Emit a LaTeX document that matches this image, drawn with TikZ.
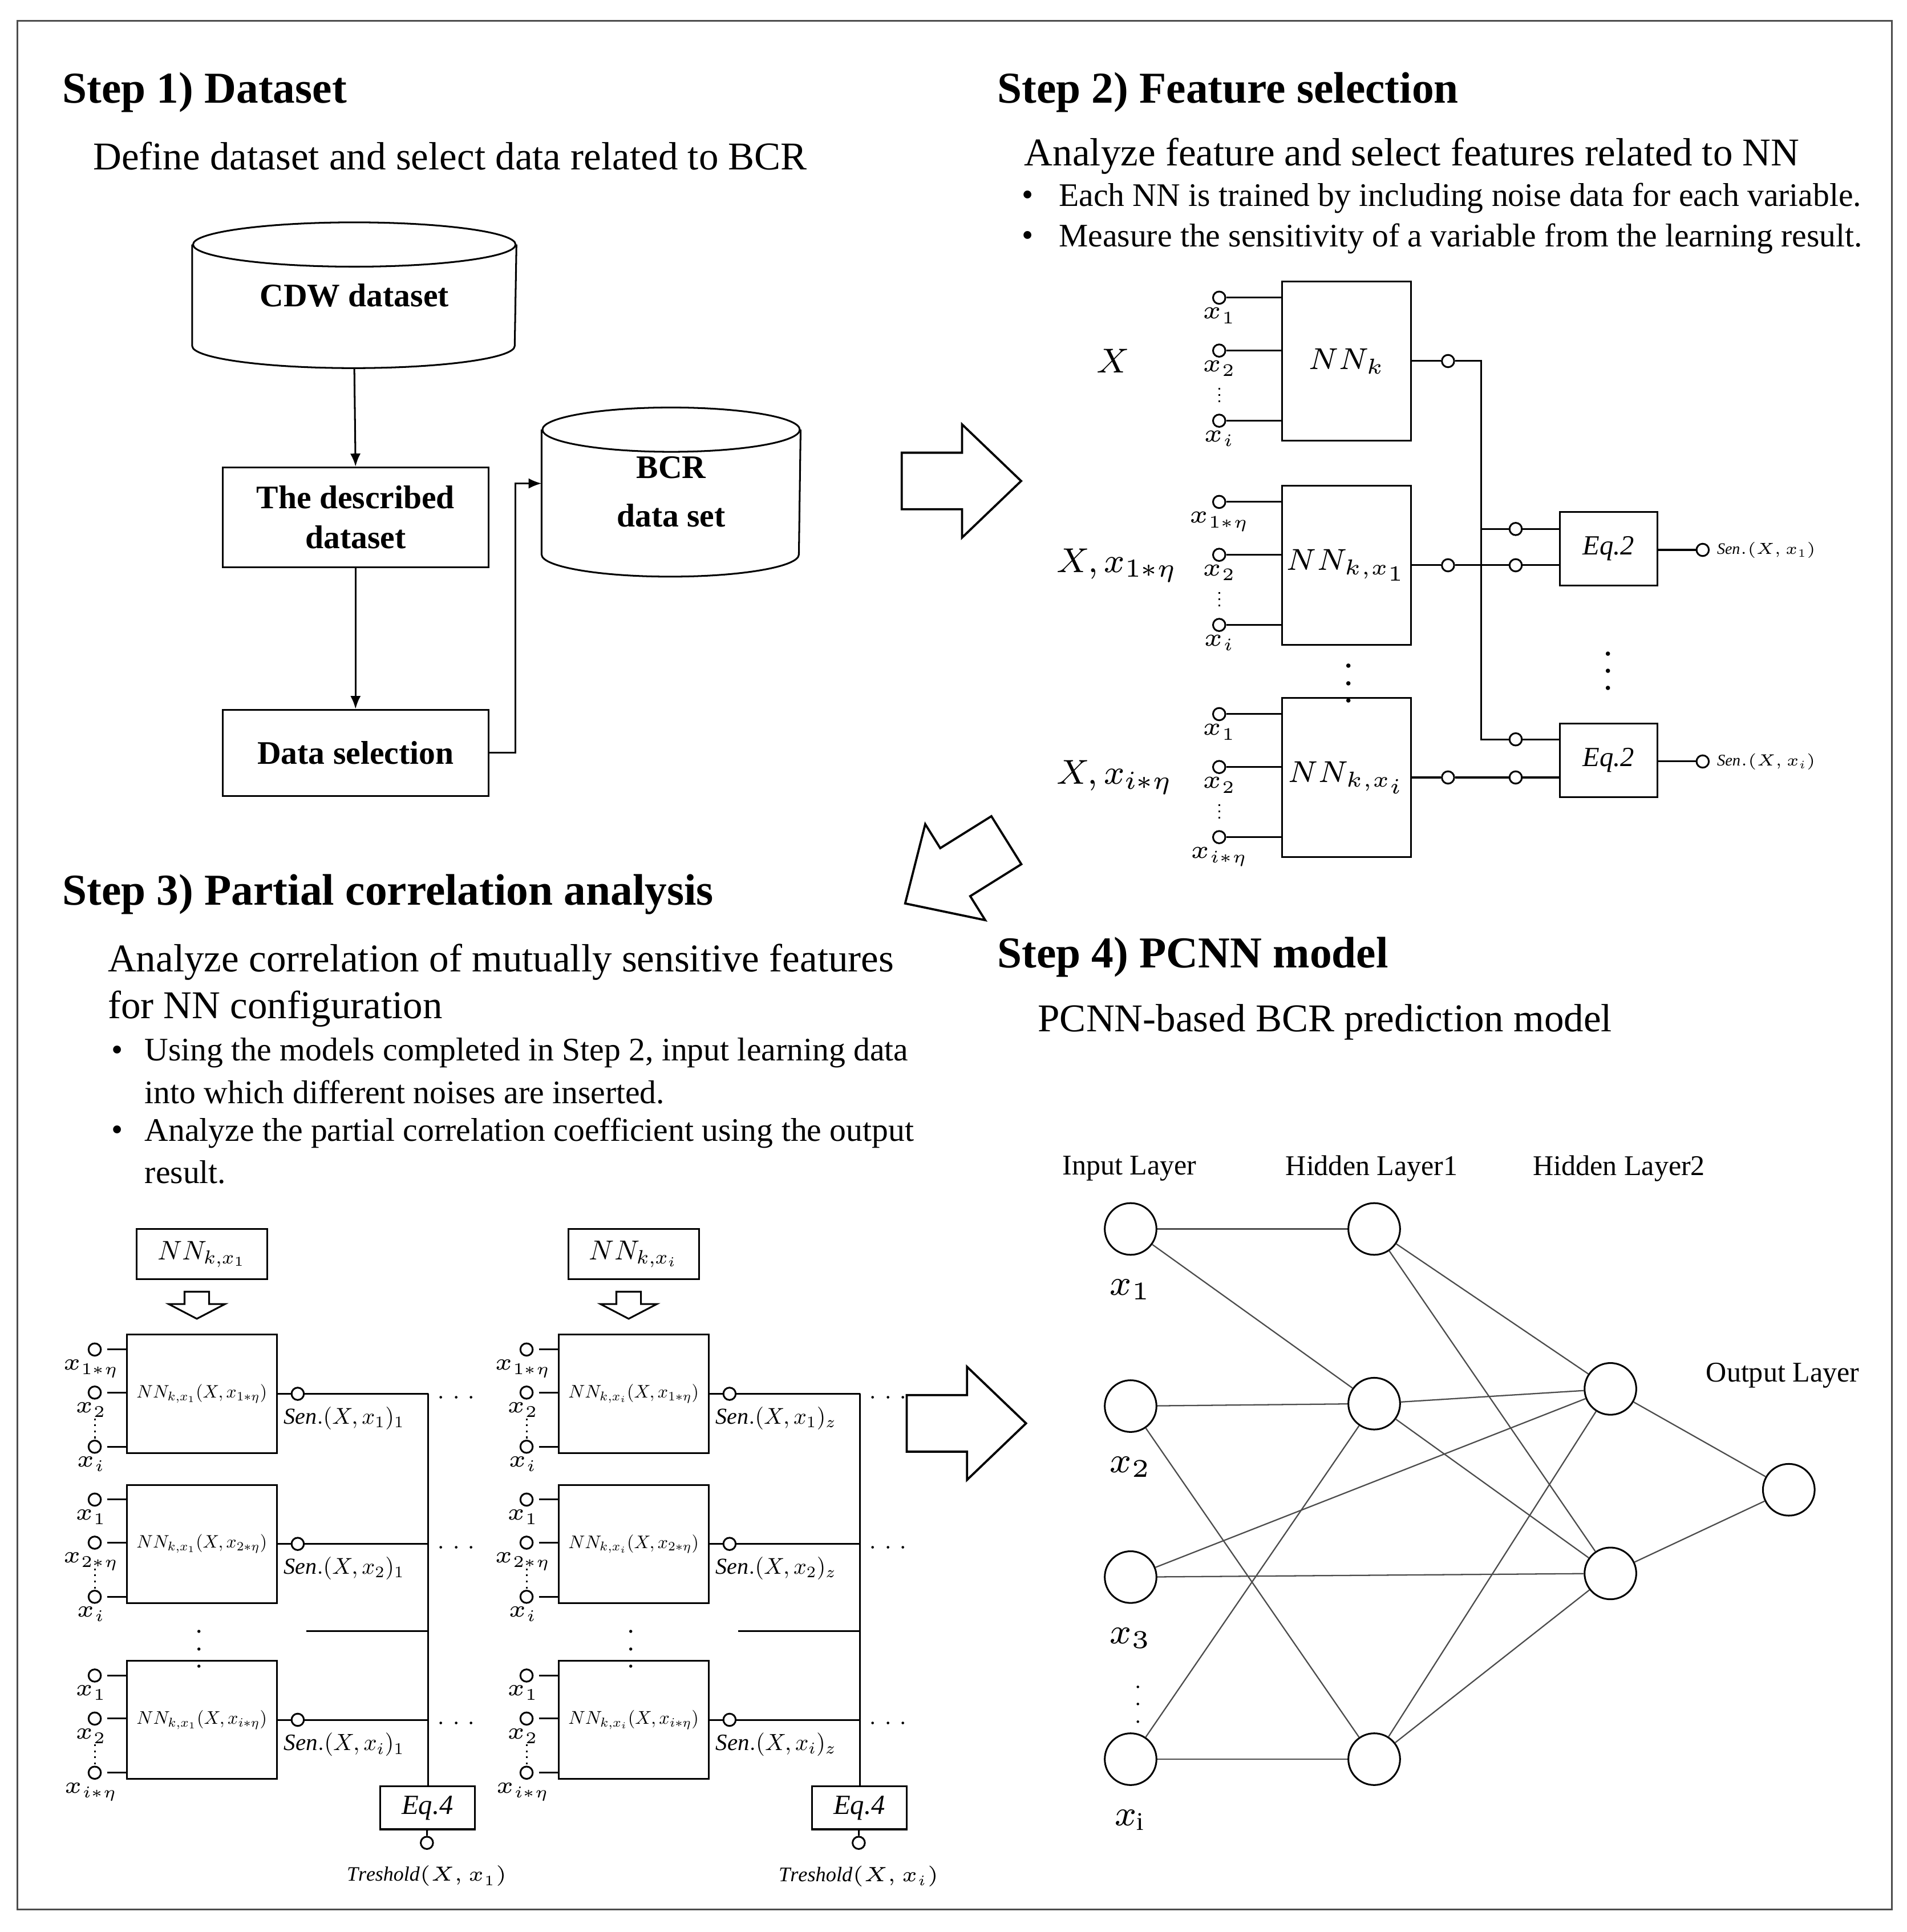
\RequirePackage{fix-cm}
\documentclass[tikz,border=0pt]{standalone}
\usepackage{amsmath}
\usepackage{amssymb}
\usepackage{fontspec}
\setmainfont{Liberation Serif}
\usetikzlibrary{positioning,arrows.meta}

\tikzset{
  steptitle/.style={anchor=west, inner sep=0pt, font=\fontsize{10.2}{11}\selectfont\bfseries},
  subtitle/.style={anchor=west, inner sep=0pt, font=\fontsize{9.1}{10}\selectfont},
  bullet/.style={anchor=west, inner sep=0pt, font=\fontsize{7.6}{8}\selectfont},
  box/.style={draw, inner sep=0pt},
  dbox/.style={draw, inner sep=0pt, font=\fontsize{7.6}{9.2}\selectfont\bfseries, align=center},
  cyl/.style={inner sep=0pt, font=\fontsize{7.6}{9.2}\selectfont\bfseries, align=center},
  term/.style={circle, draw, fill=white, minimum size=0.1cm, inner sep=0pt},
  lab/.style={font=\fontsize{5.8}{6}\selectfont, inner sep=0.5pt},
  vdots/.style={inner sep=0pt, font=\fontsize{6}{7}\selectfont\bfseries},
  neuron/.style={circle, draw, minimum size=0.42cm, inner sep=0pt},
  link/.style={draw=black!70, line width=0.3pt},
  flow/.style={-{Latex[length=3pt,width=2.4pt]}},
  pics/bigarrow/.style={code={
    \draw[line width=0.5pt] (0,-23) -- (49,-23) -- (49,-46) -- (97,0) -- (49,46) -- (49,23) -- (0,23) -- cycle;}},
  pics/smallarrow/.style={code={
    \draw[line width=0.4pt] (-10,0) -- (-10,10) -- (-23,10) -- (0,22) -- (23,10) -- (10,10) -- (10,0) -- cycle;}}
}

\begin{document}
\begin{tikzpicture}[x=0.01cm, y=-0.01cm]
  \useasboundingbox (0,0) rectangle (1550,1570.5);
  \draw[black!70] (14,17) rectangle (1538,1552);

  % Step 1
  \node[steptitle] (t1) at (50,75) {Step 1) Dataset};
  \node[subtitle] at (75,127) {Define dataset and select data related to BCR};

  \node[cyl, minimum width=2.62cm, minimum height=1.17cm] (cdw) at (288,240) {CDW dataset};
  \draw ([yshift=-0.18cm]cdw.north) ellipse [x radius=1.31cm, y radius=0.18cm];
  \draw ([yshift=-0.18cm]cdw.north west) -- ([yshift=0.18cm]cdw.south west)
        arc [start angle=180, end angle=360, x radius=1.31cm, y radius=0.18cm] -- ([yshift=-0.18cm]cdw.north east);

  \node[cyl, minimum width=2.09cm, minimum height=1.36cm] (bcr) at (545.5,400) {BCR\\[2pt]data set};
  \draw ([yshift=-0.18cm]bcr.north) ellipse [x radius=1.045cm, y radius=0.18cm];
  \draw ([yshift=-0.18cm]bcr.north west) -- ([yshift=0.18cm]bcr.south west)
        arc [start angle=180, end angle=360, x radius=1.045cm, y radius=0.18cm] -- ([yshift=-0.18cm]bcr.north east);

  \node[dbox, minimum width=2.16cm, minimum height=0.81cm] (desc) at (289,420.5) {The described\\dataset};
  \node[dbox, minimum width=2.16cm, minimum height=0.70cm] (sel) at (289,612) {Data selection};

  \draw[flow] (cdw.south) -- (desc.north);
  \draw[flow] (desc.south) -- (sel.north);
  \draw[flow] (sel.east) -- ++(0.21cm,0) |- ([yshift=0.07cm]bcr.west);

  % big arrows
  \pic at (733,391) {bigarrow};
  \pic[rotate=212] at (818,683) {bigarrow};
  \pic at (737,1157) {bigarrow};

  % Step 2
  \node[steptitle] (t2) at (810,75) {Step 2) Feature selection};
  \node[subtitle] at (832,127) {Analyze feature and select features related to NN};
  \node[bullet] at (830,161) {\textbullet};
  \node[bullet] at (860,161) {Each NN is trained by including noise data for each variable.};
  \node[bullet] at (830,194) {\textbullet};
  \node[bullet] at (860,194) {Measure the sensitivity of a variable from the learning result.};

  \foreach \n/\yc/\txt/\set/\lx/\la/\lb/\lc in {
      a/293.5/{NN_k}/{X}/905/x_1/x_2/x_i,
      b/459.5/{NN_{k,x_1}}/{X, x_{1*\eta}}/908/x_{1*\eta}/x_2/x_i,
      c/632/{NN_{k,x_i}}/{X, x_{i*\eta}}/906/x_1/x_2/x_{i*\eta}} {
    \node[box, minimum width=1.05cm, minimum height=1.29cm, font=\fontsize{7}{8}\selectfont] (nn\n) at (1094.5,\yc) {$\txt$};
    \node[font=\fontsize{8}{9}\selectfont] at (\lx,\yc) {$\set$};
    \foreach \dy/\l [count=\i] in {-51.5/\la, -8.5/\lb, 48.5/\lc} {
      \node[term] (in\n\i) at (991,\yc+\dy) {};
      \node[lab, below=0pt of in\n\i] {$\l$};
      \draw (in\n\i) -- (nn\n.west |- in\n\i);
    }
    \draw[densely dotted] (991,\yc+22) -- (991,\yc+34);
    \node[term] (out\n) at (1177,\yc) {};
    \draw (nn\n.east |- out\n) -- (out\n);
  }
  \node[vdots] at (1096,545) {$\vdots$};

  \node[box, minimum width=0.79cm, minimum height=0.60cm, font=\fontsize{6.4}{7}\selectfont\itshape] (eqa) at (1307.5,446) {Eq.2};
  \node[box, minimum width=0.79cm, minimum height=0.60cm, font=\fontsize{6.4}{7}\selectfont\itshape] (eqb) at (1307.5,618) {Eq.2};
  \node[vdots] at (1307,535) {$\vdots$};

  \node[term] (ea1) at (1232,430) {};
  \node[term] (ea2) at (1232,459.5) {};
  \node[term] (eb1) at (1232,601) {};
  \node[term] (eb2) at (1232,632) {};
  \coordinate (bt) at (1204,293.5);
  \coordinate (bm) at (1204,430);
  \draw (outa) -- (bt) |- (eb1);
  \draw (bm) -- (ea1);
  \draw (outb) -- (ea2);
  \draw (outc) -- (eb2);
  \foreach \e in {ea1,ea2} \draw (\e) -- (eqa.west |- \e);
  \foreach \e in {eb1,eb2} \draw (\e) -- (eqb.west |- \e);
  \node[term] (sa) at (1384,447) {};
  \node[term] (sb) at (1384,619) {};
  \draw (eqa.east |- sa) -- (sa);
  \draw (eqb.east |- sb) -- (sb);
  \node[lab, right=1pt of sa] {\resizebox{0.8cm}{!}{$\mathit{Sen}.(X,x_1)$}};
  \node[lab, right=1pt of sb] {\resizebox{0.8cm}{!}{$\mathit{Sen}.(X,x_i)$}};

  % Step 3
  \node[steptitle] (t3) at (50,727) {Step 3) Partial correlation analysis};
  \node[subtitle] at (87,782) {Analyze correlation of mutually sensitive features};
  \node[subtitle] at (87,820) {for NN configuration};
  \node[bullet] at (90,856) {\textbullet};
  \node[bullet] at (117,856) {Using the models completed in Step 2, input learning data};
  \node[bullet] at (117,888) {into which different noises are inserted.};
  \node[bullet] at (90,921) {\textbullet};
  \node[bullet] at (117,921) {Analyze the partial correlation coefficient using the output};
  \node[bullet] at (117,953) {result.};

  \foreach \dx/\s/\t/\c in {0/1/1/a, 351/i/z/b} {
    \node[box, minimum width=1.06cm, minimum height=0.41cm] (top\c) at (164+\dx,1019.5) {\resizebox{0.72cm}{!}{$NN_{k,x_{\s}}$}};
    \pic at (160+\dx,1050) {smallarrow};
    \node[box, minimum width=0.77cm, minimum height=0.35cm, font=\fontsize{6.4}{7}\selectfont\itshape] (eq\c) at (347.5+\dx,1469.5) {Eq.4};
    \node[term] (th\c) at (347+\dx,1498) {};
    \draw (eq\c) -- (th\c);
    \node[lab, below=3pt of th\c] {\resizebox{1.3cm}{!}{$\mathit{Treshold}(X,x_{\s})$}};
    \coordinate (bus\c) at (348+\dx,1133);
    \draw (bus\c) -- (eq\c.north -| bus\c);
    \foreach \yc/\v/\la/\lb/\lc [count=\r] in {
        1133/1/x_{1*\eta}/x_2/x_i,
        1255/2/x_1/x_{2*\eta}/x_i,
        1398/i/x_1/x_2/x_{i*\eta}} {
      \node[box, minimum width=1.22cm, minimum height=0.96cm] (m\c\r) at (164+\dx,\yc) {\resizebox{1.06cm}{!}{$NN_{k,x_{\s}}(X,x_{\v*\eta})$}};
      \foreach \dy/\l [count=\i] in {-36/\la, -1/\lb, 43/\lc} {
        \node[term] (p\c\r\i) at (77+\dx,\yc+\dy) {};
        \node[lab, below=0pt of p\c\r\i, xshift=-0.03cm, font=\fontsize{5.4}{6}\selectfont] {$\l$};
        \draw (p\c\r\i) ++(0.1cm,0) -- (m\c\r.west |- p\c\r\i);
      }
      \draw[densely dotted] (77+\dx,\yc+20) -- (77+\dx,\yc+37);
      \node[term] (q\c\r) at (242+\dx,\yc) {};
      \draw (m\c\r.east |- q\c\r) -- (q\c\r);
      \draw (q\c\r) -- (bus\c |- q\c\r);
      \node[anchor=north west, inner sep=0pt] at (230+\dx,\yc+10) {\resizebox{0.98cm}{!}{$\mathit{Sen}.(X,x_{\v})_{\t}$}};
      \node[font=\fontsize{5}{6}\selectfont] at (373+\dx,\yc+3) {$\cdots$};
    }
    \coordinate (br\c) at (249+\dx,1326);
    \draw (br\c) -- (bus\c |- br\c);
    \node[font=\fontsize{6}{7}\selectfont] at (162+\dx,1330) {$\vdots$};
  }

  % Step 4
  \node[steptitle] (t4) at (810,778) {Step 4) PCNN model};
  \node[subtitle] at (843,831) {PCNN-based BCR prediction model};
  \foreach \x/\txt in {918/Input Layer, 1115/Hidden Layer1, 1316/Hidden Layer2}
    \node[font=\fontsize{6.6}{7}\selectfont] at (\x,950) {\txt};
  \node[font=\fontsize{6.6}{7}\selectfont] at (1449,1118) {Output Layer};

  \foreach \y/\l [count=\i] in {999/x_1, 1143/x_2, 1282/x_3, 1430/x_\mathrm{i}} {
    \node[neuron] (i\i) at (919,\y) {};
    \node[font=\fontsize{8.4}{9}\selectfont, below=2pt of i\i] {$\l$};
  }
  \node[font=\fontsize{5}{6}\selectfont] at (925,1375) {$\vdots$};
  \node[neuron] (h1) at (1117,999) {};
  \node[neuron] (h2) at (1117,1141) {};
  \node[neuron] (h3) at (1117,1430) {};
  \node[neuron] (g1) at (1309,1129) {};
  \node[neuron] (g2) at (1309,1279) {};
  \node[neuron] (o) at (1454,1211) {};

  \foreach \a/\b in {i1/h1, i1/h2, i2/h2, i2/h3, i3/g1, i3/g2, i4/h2, i4/h3,
                     h1/g1, h1/g2, h2/g1, h2/g2, h3/g1, h3/g2, g1/o, g2/o}
    \draw[link] (\a) -- (\b);
\end{tikzpicture}
\end{document}
